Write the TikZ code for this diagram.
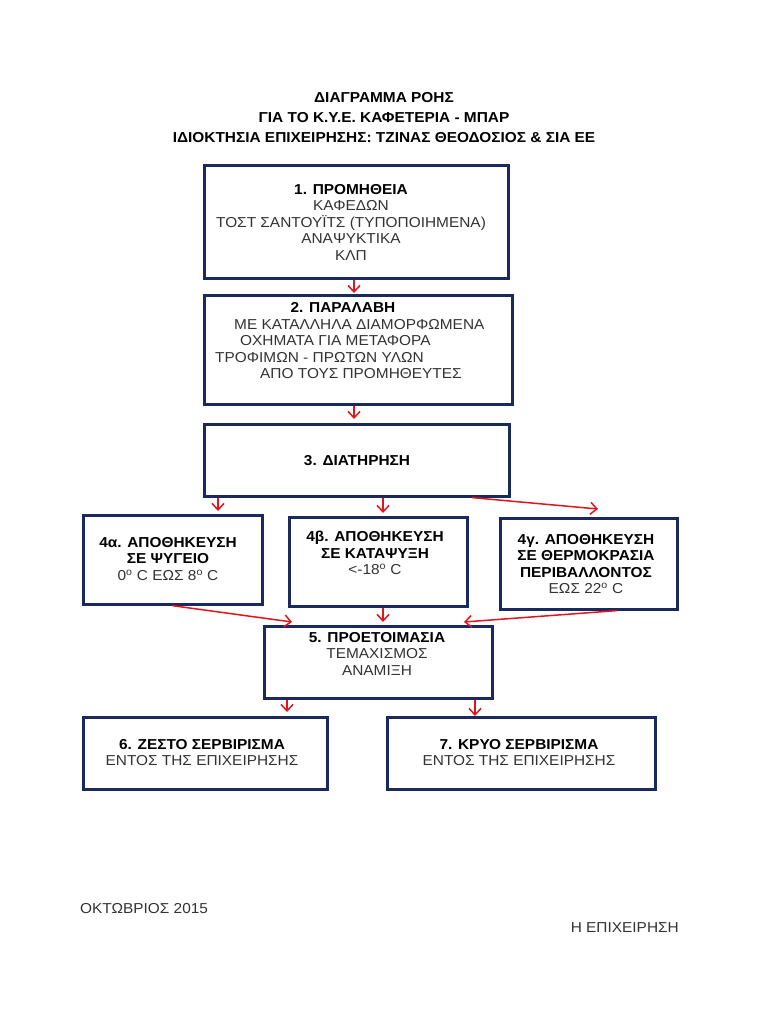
\documentclass[tikz,border=0pt]{standalone}
\usepackage{fontspec}
\setmainfont{Liberation Sans}[FakeStretch=1.07]
\usetikzlibrary{arrows.meta,calc}
\definecolor{navy}{HTML}{1B2A5E}
\definecolor{arrred}{HTML}{E3151C}
\definecolor{txtgray}{HTML}{333333}
\begin{document}
\begin{tikzpicture}[x=1pt,y=-1pt,
  box/.style={draw=navy,line width=2.6pt,rectangle,inner sep=0pt,anchor=north west,fill=white},
  arr/.style={draw=arrred,line width=1.5pt,-{Straight Barb[length=6.5pt,width=12pt,line width=1.5pt]}},
  body/.style={font=\fontsize{14.4}{16.5}\selectfont,align=center,inner sep=0pt,text=txtgray},
  ttl/.style={font=\bfseries\fontsize{14.4}{20}\selectfont,align=center,inner sep=0pt,text=black}]
\path[use as bounding box,fill=white] (0,0) rectangle (768,1024);

% title
\node[ttl,anchor=north] (title) at (384,92) {ΔΙΑΓΡΑΜΜΑ ΡΟΗΣ\\ΓΙΑ ΤΟ Κ.Υ.Ε. ΚΑΦΕΤΕΡΙΑ - ΜΠΑΡ\\ΙΔΙΟΚΤΗΣΙΑ ΕΠΙΧΕΙΡΗΣΗΣ: ΤΖΙΝΑΣ ΘΕΟΔΟΣΙΟΣ \& ΣΙΑ ΕΕ};

% boxes
\node[box,minimum width=304,minimum height=113] (b1) at (203,164) {};
\node[box,minimum width=308,minimum height=109] (b2) at (203,294) {};
\node[box,minimum width=305,minimum height=72] (b3) at (203,423) {};
\node[box,minimum width=179,minimum height=89] (b4a) at (82,514) {};
\node[box,minimum width=178,minimum height=89] (b4b) at (288,516) {};
\node[box,minimum width=177,minimum height=91] (b4g) at (499,517) {};
\node[box,minimum width=228,minimum height=72] (b5) at (263,625) {};
\node[box,minimum width=244,minimum height=72] (b6) at (82,716) {};
\node[box,minimum width=268,minimum height=72] (b7) at (386,716) {};

% texts
\node[body,anchor=north] (t1) at (351,184) {\textcolor{black}{\bfseries 1. ΠΡΟΜΗΘΕΙΑ}\\ΚΑΦΕΔΩΝ\\ΤΟΣΤ ΣΑΝΤΟΥΪΤΣ (ΤΥΠΟΠΟΙΗΜΕΝΑ)\\ΑΝΑΨΥΚΤΙΚΑ\\ΚΛΠ};
\node[body,anchor=base,text=black,font=\bfseries\fontsize{14.4}{16.5}\selectfont] (t2a) at (343,312) {2. ΠΑΡΑΛΑΒΗ};
\node[body,anchor=north west,align=left] (t2b) at (215,319) {\hspace*{19pt}ΜΕ ΚΑΤΑΛΛΗΛΑ ΔΙΑΜΟΡΦΩΜΕΝΑ\\\hspace*{25pt}ΟΧΗΜΑΤΑ ΓΙΑ ΜΕΤΑΦΟΡΑ\\ΤΡΟΦΙΜΩΝ - ΠΡΩΤΩΝ ΥΛΩΝ\\\hspace*{45pt}ΑΠΟ ΤΟΥΣ ΠΡΟΜΗΘΕΥΤΕΣ};
\node[body,anchor=base,text=black,font=\bfseries\fontsize{14.4}{16.5}\selectfont] (t3) at (357,465) {3. ΔΙΑΤΗΡΗΣΗ};
\node[body,anchor=north] (t4a) at (168,537) {\textcolor{black}{\bfseries 4α. ΑΠΟΘΗΚΕΥΣΗ}\\\textcolor{black}{\bfseries ΣΕ ΨΥΓΕΙΟ}\\0\textsuperscript{o} C ΕΩΣ 8\textsuperscript{o} C};
\node[body,anchor=north] (t4b) at (375,531) {\textcolor{black}{\bfseries 4β. ΑΠΟΘΗΚΕΥΣΗ}\\\textcolor{black}{\bfseries ΣΕ ΚΑΤΑΨΥΞΗ}\\<-18\textsuperscript{o} C};
\node[body,anchor=north] (t4g) at (586,534) {\textcolor{black}{\bfseries 4γ. ΑΠΟΘΗΚΕΥΣΗ}\\\textcolor{black}{\bfseries ΣΕ ΘΕΡΜΟΚΡΑΣΙΑ}\\\textcolor{black}{\bfseries ΠΕΡΙΒΑΛΛΟΝΤΟΣ}\\ΕΩΣ 22\textsuperscript{o} C};
\node[body,anchor=north] (t5) at (377,632) {\textcolor{black}{\bfseries 5. ΠΡΟΕΤΟΙΜΑΣΙΑ}\\ΤΕΜΑΧΙΣΜΟΣ\\ΑΝΑΜΙΞΗ};
\node[body,anchor=north] (t6) at (202,739) {\textcolor{black}{\bfseries 6. ΖΕΣΤΟ ΣΕΡΒΙΡΙΣΜΑ}\\ΕΝΤΟΣ ΤΗΣ ΕΠΙΧΕΙΡΗΣΗΣ};
\node[body,anchor=north] (t7) at (519,739) {\textcolor{black}{\bfseries 7. ΚΡΥΟ ΣΕΡΒΙΡΙΣΜΑ}\\ΕΝΤΟΣ ΤΗΣ ΕΠΙΧΕΙΡΗΣΗΣ};

% footer
\node[body,anchor=base west] (f1) at (80,913) {ΟΚΤΩΒΡΙΟΣ 2015};
\node[body,anchor=base east] (f2) at (679,932) {Η ΕΠΙΧΕΙΡΗΣΗ};

% arrows
\draw[arr,shorten >=1pt] ($(b1.south west)+(151,0)$) -- ($(b2.north west)+(151,0)$);
\draw[arr,shorten >=4pt] ($(b2.south west)+(151,0)$) -- ($(b3.north west)+(151,0)$);
\draw[arr,shorten >=3pt] ($(b3.south west)+(15,0)$) -- ($(b4a.north west)+(136,0)$);
\draw[arr,shorten >=3pt] ($(b3.south west)+(180,0)$) -- ($(b4b.north west)+(95,0)$);
\draw[arr] ($(b3.south west)+(269,0)$) -- ($(b4g.north west)+(99,-8)$);
\draw[arr] ($(b4a.south west)+(90,0)$) -- ($(b5.north west)+(29,-3)$);
\draw[arr,shorten >=3pt] ($(b4b.south west)+(95,0)$) -- ($(b5.north west)+(120,0)$);
\draw[arr] ($(b4g.south west)+(118,0)$) -- ($(b5.north west)+(201,-3)$);
\draw[arr,shorten >=4pt] ($(b5.south west)+(24,0)$) -- ($(b6.north west)+(205,0)$);
\draw[arr] ($(b5.south west)+(212,0)$) -- ($(b7.north west)+(89,0)$);
\end{tikzpicture}
\end{document}
